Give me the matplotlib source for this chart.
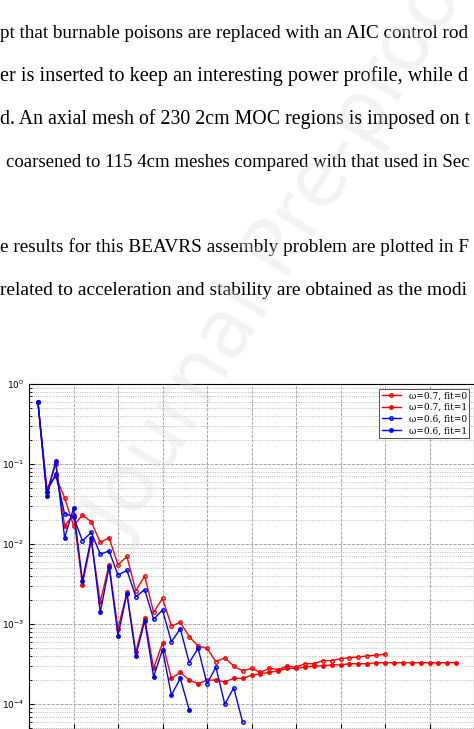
import matplotlib
matplotlib.use("Agg")
import matplotlib.pyplot as plt
import numpy as np

r_open = [0.6,0.05,0.07,0.038,0.017,0.023,0.019,0.0105,0.012,0.0055,0.007,0.0026,0.004,0.0014,0.0021,
          0.00095,0.00105,0.0007,0.00053,0.0005,0.00034,0.00038,0.0003,0.00026,0.00028,0.00025,0.00028,
          0.00027,0.0003,0.00029,0.00032,0.00032,0.00035,0.00035,0.00037,0.00038,0.00039,0.0004,0.00041,0.00042]
r_fill = [0.6,0.045,0.1,0.017,0.023,0.0031,0.011,0.0019,0.0055,0.00088,0.0025,0.00045,0.0012,0.00028,0.00058,
          0.00021,0.00025,0.0002,0.00018,0.0002,0.0002,0.00019,0.00021,0.00021,0.00023,0.00024,0.00025,0.00026,
          0.00028,0.00028,0.00029,0.0003,0.0003,0.00031,0.00031,0.00032,0.00032,0.00032,0.00033,0.00033,0.00033,
          0.00033,0.00033,0.00033,0.00033,0.00033,0.00033,0.00033]
b_open = [0.6,0.045,0.075,0.024,0.022,0.011,0.014,0.0075,0.0082,0.0041,0.0047,0.0022,0.0027,0.00115,0.0015,
          0.0006,0.00088,0.00033,0.0005,0.00018,0.00029,0.0001,0.00016,0.00006]
b_fill = [0.6,0.04,0.11,0.012,0.028,0.0035,0.012,0.0014,0.0052,0.00072,0.0024,0.0004,0.0011,0.00022,0.00048,
          0.00013,0.00021,0.000085]
labels = ["\u03c9=0.7, fit=0", "\u03c9=0.7, fit=1", "\u03c9=0.6, fit=0", "\u03c9=0.6, fit=1"]

text_lines = [
    (38, "pt that burnable poisons are replaced with an AIC control rod"),
    (81, "er is inserted to keep an interesting power profile, while d"),
    (124, "d. An axial mesh of 230 2cm MOC regions is imposed on t"),
    (167, "coarsened to 115 4cm meshes compared with that used in Sec"),
    (252, "e results for this BEAVRS assembly problem are plotted in F"),
    (295, "related to acceleration and stability are obtained as the modi"),
]

W, H = 474, 729
fig = plt.figure(figsize=(W/100, H/100), dpi=100)
fig.canvas.draw()
r = fig.canvas.get_renderer()
for y, t in text_lines:
    x0 = 6/W if t.startswith("coarsened") else 0.0
    tx = fig.text(x0, 1 - y/H, t, family="Liberation Serif", fontsize=15, va="baseline", ha="left")
    wpx = tx.get_window_extent(renderer=r).width
    avail = W - 4 - x0 * W
    if wpx > avail:
        tx.set_fontsize(15 * avail / wpx)

ax = fig.add_axes([29/W, 0.0, 1 - 29/W, 1 - 384/H])
ax.set_yscale("log")
series = [(r_open, "red", "o", "none"), (r_fill, "red", "o", "red"),
          (b_open, "blue", "o", "none"), (b_fill, "blue", "o", "blue")]
for (vals, c, m, fc), lab in zip(series, labels):
    x = np.arange(1, len(vals) + 1)
    ax.plot(x, vals, color=c, marker=m, ms=2.5, mfc=fc, mec=c, lw=1.0, label=lab)
ax.set_xlim(0, 50)
ax.set_ylim(10**-4.31, 1)
ax.set_xticks(range(0, 51, 5))
ax.set_xticklabels([])
ax.grid(True, which="major", ls="--", lw=0.6, color="#999999")
ax.grid(True, which="minor", ls=":", lw=0.6, color="#aaaaaa")
ax.tick_params(labelsize=6.5, direction="in", which="both")
ax.set_ylabel("Relative RMS Fission Rate Error", family="Liberation Serif", fontsize=7.5, labelpad=1)
leg = ax.legend(loc="upper right", prop={"family": "DejaVu Serif", "size": 6.5}, fancybox=False,
                edgecolor="black", borderpad=0.3, handlelength=2.2, labelspacing=0.3)
leg.get_frame().set_linewidth(0.6)
fig.text(0.6, 0.66, "Journal Pre-proof", fontsize=58, color="#d8d8d8", alpha=0.3,
         rotation=58, ha="center", va="center", family="DejaVu Sans")
fig.savefig("out.png", dpi=100)
